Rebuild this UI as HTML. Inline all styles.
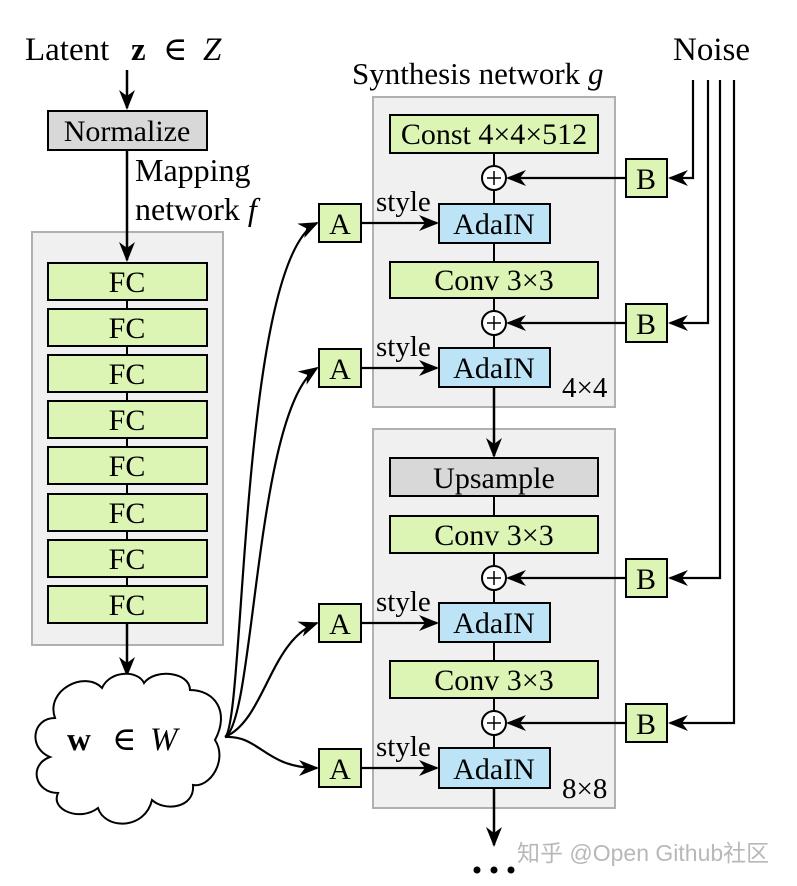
<!DOCTYPE html>
<html><head><meta charset="utf-8"><style>
html,body{margin:0;padding:0;background:#fff;}
svg{display:block;font-family:"Liberation Serif","DejaVu Serif",serif;}
</style></head><body>
<svg width="797" height="886" viewBox="0 0 797 886" xmlns="http://www.w3.org/2000/svg">
<defs>
<marker id="ar" viewBox="0 0 20 20" refX="18" refY="10" markerWidth="20" markerHeight="20" markerUnits="userSpaceOnUse" orient="auto">
<path d="M0,2 L20,10 L0,18 L6,10 Z" fill="#000"/>
</marker>
</defs>
<g font-size="33" fill="#000">
<text x="25" y="60">Latent</text>
<text x="131" y="60" font-weight="bold">z</text>
<text x="163" y="60">∈</text>
<text x="203" y="60" font-style="italic">Z</text>
<text x="352" y="84" font-size="31">Synthesis network <tspan font-style="italic">g</tspan></text>
<text x="673" y="60">Noise</text>
<text x="135" y="181" font-size="32">Mapping</text>
<text x="135" y="220" font-size="32">network <tspan font-style="italic">f</tspan></text>
</g>
<!-- mapping -->
<rect x="32" y="232" width="191" height="413" fill="#f0f0f0" stroke="#b0b0b0" stroke-width="2"/>
<line x1="127" y1="70" x2="127" y2="108" stroke="#000" stroke-width="2.5" marker-end="url(#ar)"/>
<rect x="48" y="111" width="159" height="39" fill="#d8d8d8" stroke="#000" stroke-width="2"/>
<text x="127" y="141" font-size="30" text-anchor="middle">Normalize</text>
<line x1="127" y1="150" x2="127" y2="260" stroke="#000" stroke-width="2.5" marker-end="url(#ar)"/>
<line x1="127" y1="300" x2="127" y2="600" stroke="#000" stroke-width="2"/>
<g font-size="30" text-anchor="middle">
<g fill="#ddf5b4" stroke="#000" stroke-width="2">
<rect x="48" y="263" width="159" height="37"/>
<rect x="48" y="309" width="159" height="37"/>
<rect x="48" y="355" width="159" height="37"/>
<rect x="48" y="401" width="159" height="37"/>
<rect x="48" y="447" width="159" height="37"/>
<rect x="48" y="494" width="159" height="37"/>
<rect x="48" y="540" width="159" height="37"/>
<rect x="48" y="586" width="159" height="37"/>
</g>
<text x="127" y="292">FC</text><text x="127" y="338">FC</text><text x="127" y="384">FC</text><text x="127" y="430">FC</text>
<text x="127" y="476">FC</text><text x="127" y="523">FC</text><text x="127" y="569">FC</text><text x="127" y="615">FC</text>
</g>
<line x1="127" y1="623" x2="127" y2="675" stroke="#000" stroke-width="2.5" marker-end="url(#ar)"/>
<!-- cloud -->
<path d="M55,718 C45,690 85,670 102,688 C110,670 138,670 144,683 C155,668 190,672 190,690 C215,690 230,712 215,740 C228,760 210,788 193,785 C195,808 165,812 152,800 C145,830 105,830 98,808 C80,822 50,810 58,793 C35,793 28,765 50,757 C28,748 32,718 55,718 Z" fill="#fff" stroke="#000" stroke-width="2"/>
<text x="67" y="750" font-size="33" font-weight="bold">w</text>
<text x="112" y="750" font-size="33">∈</text>
<text x="150" y="750" font-size="33" font-style="italic">W</text>
<!-- curves to A -->
<g fill="none" stroke="#000" stroke-width="2.2">
<path d="M225,737 C245,725 240,260 317,223" marker-end="url(#ar)"/>
<path d="M225,737 C255,722 255,410 317,368" marker-end="url(#ar)"/>
<path d="M225,737 C265,720 270,640 317,623" marker-end="url(#ar)"/>
<path d="M225,737 C260,735 265,768 317,768" marker-end="url(#ar)"/>
</g>
<!-- synthesis boxes -->
<rect x="373" y="97" width="242" height="310" fill="#f0f0f0" stroke="#b0b0b0" stroke-width="2"/>
<rect x="373" y="429" width="242" height="379" fill="#f0f0f0" stroke="#b0b0b0" stroke-width="2"/>
<g stroke="#000" stroke-width="2">
<line x1="494" y1="153" x2="494" y2="204"/>
<line x1="494" y1="243" x2="494" y2="262"/>
<line x1="494" y1="298" x2="494" y2="348"/>
<line x1="494" y1="496" x2="494" y2="603"/>
<line x1="494" y1="642" x2="494" y2="748"/>
</g>
<line x1="494" y1="387" x2="494" y2="456" stroke="#000" stroke-width="2.5" marker-end="url(#ar)"/>
<line x1="494" y1="788" x2="494" y2="845" stroke="#000" stroke-width="2.5" marker-end="url(#ar)"/>
<g stroke="#000" stroke-width="2">
<rect x="390" y="115" width="208" height="38" fill="#ddf5b4"/>
<rect x="390" y="262" width="208" height="36" fill="#ddf5b4"/>
<rect x="390" y="458" width="208" height="38" fill="#d8d8d8"/>
<rect x="390" y="516" width="208" height="37" fill="#ddf5b4"/>
<rect x="390" y="661" width="208" height="37" fill="#ddf5b4"/>
<rect x="439" y="204" width="111" height="39" fill="#bde3f7"/>
<rect x="439" y="348" width="111" height="39" fill="#bde3f7"/>
<rect x="439" y="603" width="111" height="39" fill="#bde3f7"/>
<rect x="439" y="748" width="111" height="40" fill="#bde3f7"/>
<rect x="319" y="204" width="42" height="38" fill="#ddf5b4"/>
<rect x="319" y="349" width="42" height="38" fill="#ddf5b4"/>
<rect x="319" y="604" width="42" height="38" fill="#ddf5b4"/>
<rect x="319" y="749" width="42" height="38" fill="#ddf5b4"/>
<rect x="626" y="159" width="41" height="38" fill="#ddf5b4"/>
<rect x="626" y="304" width="41" height="38" fill="#ddf5b4"/>
<rect x="626" y="559" width="41" height="38" fill="#ddf5b4"/>
<rect x="626" y="704" width="41" height="38" fill="#ddf5b4"/>
<circle cx="494" cy="178" r="12" fill="#fff"/>
<circle cx="494" cy="323" r="12" fill="#fff"/>
<circle cx="494" cy="578" r="12" fill="#fff"/>
<circle cx="494" cy="723" r="12" fill="#fff"/>
<path d="M487,178h14M494,171v14M487,323h14M494,316v14M487,578h14M494,571v14M487,723h14M494,716v14" stroke-width="1.5"/>
</g>
<g font-size="30" text-anchor="middle">
<text x="494" y="144">Const 4×4×512</text>
<text x="494" y="290">Conv 3×3</text>
<text x="494" y="488">Upsample</text>
<text x="494" y="545">Conv 3×3</text>
<text x="494" y="690">Conv 3×3</text>
<text x="494" y="234">AdaIN</text>
<text x="494" y="378">AdaIN</text>
<text x="494" y="633">AdaIN</text>
<text x="494" y="779">AdaIN</text>
<text x="340" y="234">A</text><text x="340" y="379">A</text><text x="340" y="634">A</text><text x="340" y="779">A</text>
<text x="646" y="189">B</text><text x="646" y="334">B</text><text x="646" y="589">B</text><text x="646" y="734">B</text>
</g>
<g font-size="29">
<text x="376" y="211">style</text><text x="376" y="356">style</text>
<text x="376" y="611">style</text><text x="376" y="756">style</text>
<text x="562" y="397">4×4</text><text x="562" y="798">8×8</text>
</g>
<!-- arrows -->
<g fill="none" stroke="#000" stroke-width="2.2">
<line x1="361" y1="223" x2="437" y2="223" marker-end="url(#ar)"/>
<line x1="361" y1="368" x2="437" y2="368" marker-end="url(#ar)"/>
<line x1="361" y1="623" x2="437" y2="623" marker-end="url(#ar)"/>
<line x1="361" y1="768" x2="437" y2="768" marker-end="url(#ar)"/>
<line x1="626" y1="178" x2="508" y2="178" marker-end="url(#ar)"/>
<line x1="626" y1="323" x2="508" y2="323" marker-end="url(#ar)"/>
<line x1="626" y1="578" x2="508" y2="578" marker-end="url(#ar)"/>
<line x1="626" y1="723" x2="508" y2="723" marker-end="url(#ar)"/>
<polyline points="693,80 693,178 670,178" marker-end="url(#ar)"/>
<polyline points="708,80 708,323 670,323" marker-end="url(#ar)"/>
<polyline points="720,80 720,578 670,578" marker-end="url(#ar)"/>
<polyline points="734,80 734,723 670,723" marker-end="url(#ar)"/>
</g>
<circle cx="477" cy="870" r="3.5"/><circle cx="494" cy="870" r="3.5"/><circle cx="511" cy="870" r="3.5"/>
<text x="517" y="861" font-size="23" fill="#b8b8b8" font-family="'Liberation Sans','Noto Sans CJK SC',sans-serif">知乎 @Open Github社区</text>
</svg>
</body></html>
